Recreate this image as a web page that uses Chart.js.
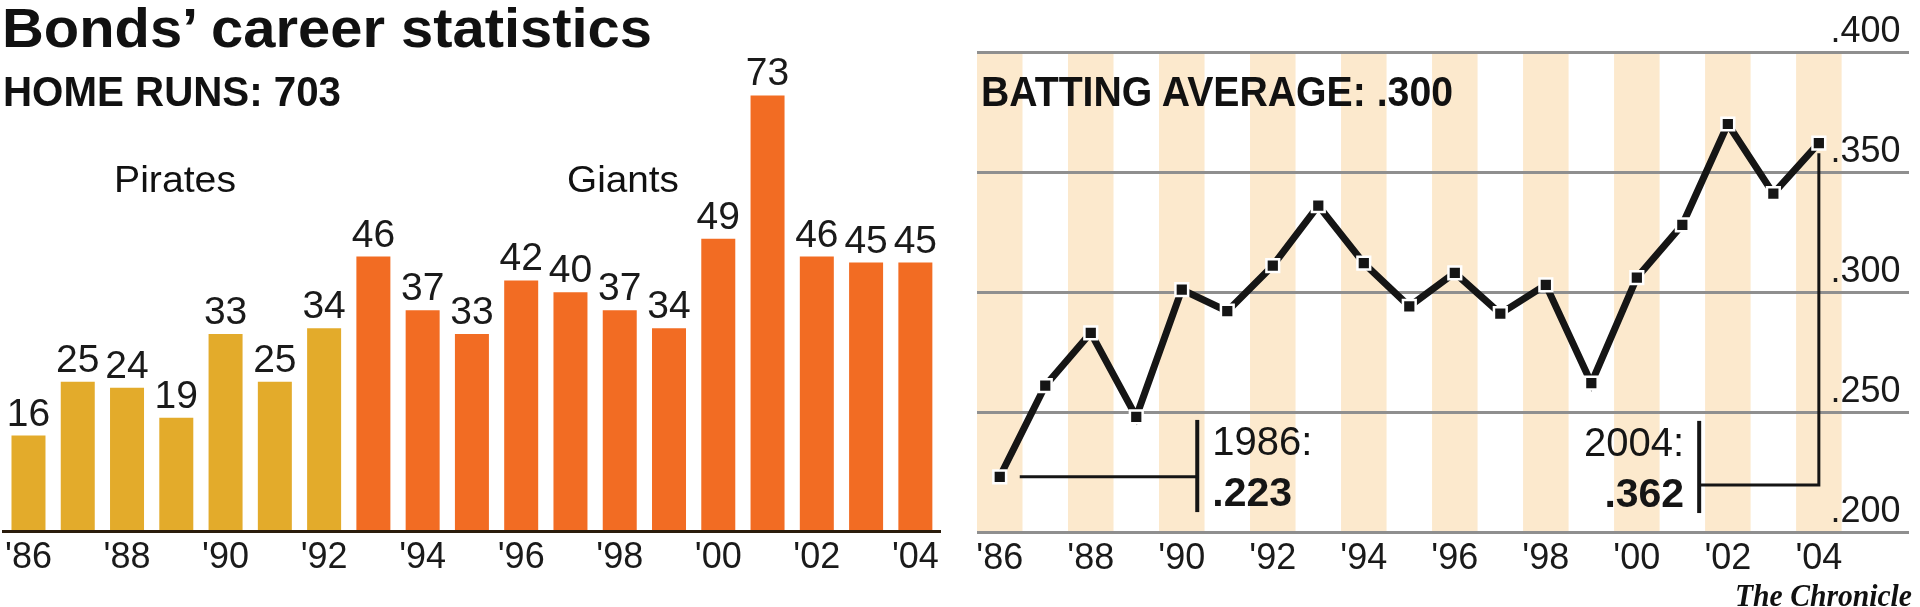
<!DOCTYPE html>
<html><head><meta charset="utf-8">
<script src="https://cdn.jsdelivr.net/npm/chart.js@4.4.1/dist/chart.umd.min.js"></script>
<style>
html,body{margin:0;padding:0;background:#fff;}
body{width:1920px;height:607px;position:relative;overflow:hidden;font-family:"Liberation Sans",Arial,sans-serif;color:#111;}
.wrap{position:absolute;top:0;height:607px;width:960px;}
.t{position:absolute;white-space:nowrap;line-height:1;transform-origin:0 0;color:#111;}
</style></head><body>
<div class="wrap" style="left:0"><canvas id="hr"></canvas></div>
<div class="wrap" style="left:960px"><canvas id="ba"></canvas></div>

<div class="t" data-w="650" style="left:2px;top:1px;font-size:55px;font-weight:bold;">Bonds’ career statistics</div>
<div class="t" data-w="338" style="left:3px;top:71px;font-size:42px;font-weight:bold;">HOME RUNS: 703</div>
<div class="t" data-w="122" style="left:114px;top:161px;font-size:37px;">Pirates</div>
<div class="t" data-w="112" style="left:567px;top:161px;font-size:37px;">Giants</div>
<div class="t" data-w="472" style="left:981px;top:71px;font-size:42px;font-weight:bold;">BATTING AVERAGE: .300</div>
<div class="t" data-w="177" style="left:1735px;top:580px;font-size:31px;font-style:italic;font-weight:bold;font-family:'Liberation Serif',serif;">The Chronicle</div>

<script>
// ---------- data ----------
const years = [1986,1987,1988,1989,1990,1991,1992,1993,1994,1995,1996,1997,1998,1999,2000,2001,2002,2003,2004];
const teams = ['Pirates','Pirates','Pirates','Pirates','Pirates','Pirates','Pirates',
               'Giants','Giants','Giants','Giants','Giants','Giants','Giants','Giants','Giants','Giants','Giants','Giants'];
const homeRuns = [16,25,24,19,33,25,34,46,37,33,42,40,37,34,49,73,46,45,45];
const battingAvg = [0.223,0.261,0.283,0.248,0.301,0.292,0.311,0.336,0.312,0.294,0.308,0.291,0.303,0.262,0.306,0.328,0.370,0.341,0.362];
const yearLabels = years.map(y => "'" + String(y).slice(2));
const avgTicks = [0.200,0.250,0.300,0.350,0.400];

// ---------- styles ----------
const FONT = '"Liberation Sans", Arial, sans-serif';
const GOLD = '#E3AB2B', ORANGE = '#F26C23', BAND = '#FCE9CD', GRID = '#8F8F8F', INK = '#151515';
const teamColor = {Pirates: GOLD, Giants: ORANGE};
const fmtAvg = v => v.toFixed(3).replace(/^0/, '');

// scale html labels to their measured widths
document.querySelectorAll('.t[data-w]').forEach(el => {
  const w = el.getBoundingClientRect().width;
  el.style.transform = 'scaleX(' + (parseFloat(el.dataset.w) / w) + ')';
});

// ---------- home runs bar chart ----------
const barLabels = {
  id: 'barLabels',
  afterDatasetsDraw(chart) {
    const ctx = chart.ctx, meta = chart.getDatasetMeta(0), vals = chart.data.datasets[0].data;
    ctx.save();
    ctx.font = '39px ' + FONT;
    ctx.fillStyle = '#1a1a1a';
    ctx.textAlign = 'center';
    ctx.textBaseline = 'alphabetic';
    meta.data.forEach((bar, i) => ctx.fillText(String(vals[i]), bar.x, bar.y - 10));
    ctx.restore();
  }
};

new Chart(document.getElementById('hr'), {
  type: 'bar',
  data: {
    labels: yearLabels,
    datasets: [{
      data: homeRuns,
      backgroundColor: teams.map(t => teamColor[t]),
      barPercentage: 0.69,
      categoryPercentage: 1,
      borderWidth: 0
    }]
  },
  options: {
    responsive: true, maintainAspectRatio: false, animation: false, devicePixelRatio: 1,
    layout: {padding: {left: 1, right: 20, top: 0, bottom: 0}},
    plugins: {legend: {display: false}, tooltip: {enabled: false}},
    scales: {
      x: {
        grid: {display: false, drawTicks: false},
        border: {display: true, color: '#2a1c0c', width: 3, z: 1},
        ticks: {autoSkip: false, maxRotation: 0, padding: 5, color: '#1a1a1a',
                font: {size: 36, family: FONT},
                callback: (v, i) => (i % 2 === 0 ? yearLabels[i] : '')},
        afterFit: s => { s.height = 76; }
      },
      y: {display: false, min: 0, max: 89}
    }
  },
  plugins: [barLabels]
});

// ---------- batting average line chart ----------
const bands = {
  id: 'bands',
  beforeDraw(chart) {
    const {ctx, chartArea: a, scales: {x}} = chart;
    ctx.save();
    ctx.fillStyle = BAND;
    years.forEach(y => {
      if (y % 2 !== 0) return;
      const x0 = x.getPixelForValue(y - 0.5), x1 = x.getPixelForValue(y + 0.5);
      ctx.fillRect(x0, a.top, x1 - x0, a.bottom - a.top);
    });
    ctx.restore();
  }
};

// callouts: anchored on a data point, bar/elbow positions in data units
const callouts = [
  {index: 0, barX: 1990.34, barTop: 0.2467, barBottom: 0.2083, side: 'right'},
  {index: years.length - 1, barX: 2001.37, barTop: 0.2463, barBottom: 0.2079, elbowY: 0.2196, side: 'left'}
];

const calloutPlugin = {
  id: 'callouts',
  afterDatasetsDraw(chart) {
    const {ctx, scales: {x, y}} = chart;
    ctx.save();
    ctx.strokeStyle = INK;
    ctx.fillStyle = INK;
    callouts.forEach(c => {
      const px = x.getPixelForValue(years[c.index]);
      const py = y.getPixelForValue(battingAvg[c.index]);
      const bx = x.getPixelForValue(c.barX);
      const bt = y.getPixelForValue(c.barTop), bb = y.getPixelForValue(c.barBottom);
      ctx.lineWidth = 3;
      ctx.beginPath();
      if (c.side === 'right') {
        ctx.moveTo(px + 20, py); ctx.lineTo(bx, py);
      } else {
        const ey = y.getPixelForValue(c.elbowY);
        ctx.moveTo(px, py + 10); ctx.lineTo(px, ey); ctx.lineTo(bx, ey);
      }
      ctx.stroke();
      ctx.lineWidth = 4;
      ctx.beginPath(); ctx.moveTo(bx, bt); ctx.lineTo(bx, bb); ctx.stroke();
      const tx = c.side === 'right' ? bx + 15 : bx - 15;
      ctx.textAlign = c.side === 'right' ? 'left' : 'right';
      ctx.textBaseline = 'alphabetic';
      ctx.font = '40px ' + FONT;
      ctx.fillText(years[c.index] + ':', tx, bt + 35);
      ctx.font = 'bold 41px ' + FONT;
      ctx.fillText(fmtAvg(battingAvg[c.index]), tx, bt + 86);
    });
    ctx.restore();
  }
};

new Chart(document.getElementById('ba'), {
  type: 'line',
  data: {
    datasets: [{
      data: years.map((yr, i) => ({x: yr, y: battingAvg[i]})),
      borderColor: INK, borderWidth: 7, tension: 0,
      pointStyle: 'rect', pointRadius: 9,
      pointBackgroundColor: INK, pointBorderColor: '#fff', pointBorderWidth: 2.5,
      clip: false
    }]
  },
  options: {
    responsive: true, maintainAspectRatio: false, animation: false, devicePixelRatio: 1,
    layout: {padding: {left: 17, right: 8, top: 52, bottom: 0}},
    plugins: {legend: {display: false}, tooltip: {enabled: false}},
    scales: {
      x: {
        type: 'linear', min: 1985.5, max: 2005.97,
        grid: {display: false, drawTicks: false},
        border: {display: false},
        ticks: {padding: 5, color: '#1a1a1a', font: {size: 36, family: FONT},
                callback: v => "'" + String(v).slice(2)},
        afterBuildTicks: s => { s.ticks = years.filter((yr, i) => i % 2 === 0).map(v => ({value: v})); },
        afterFit: s => { s.height = 75; }
      },
      y: {
        position: 'right', min: 0.2, max: 0.4,
        grid: {color: GRID, lineWidth: 3, drawTicks: false},
        border: {display: false},
        ticks: {mirror: true, padding: -8, labelOffset: -20, color: '#1a1a1a',
                font: {size: 36, family: FONT}, callback: v => fmtAvg(v)},
        afterBuildTicks: s => { s.ticks = avgTicks.map(v => ({value: v})); },
        afterFit: s => { s.width = 0; }
      }
    }
  },
  plugins: [bands, calloutPlugin]
});
</script>
</body></html>
